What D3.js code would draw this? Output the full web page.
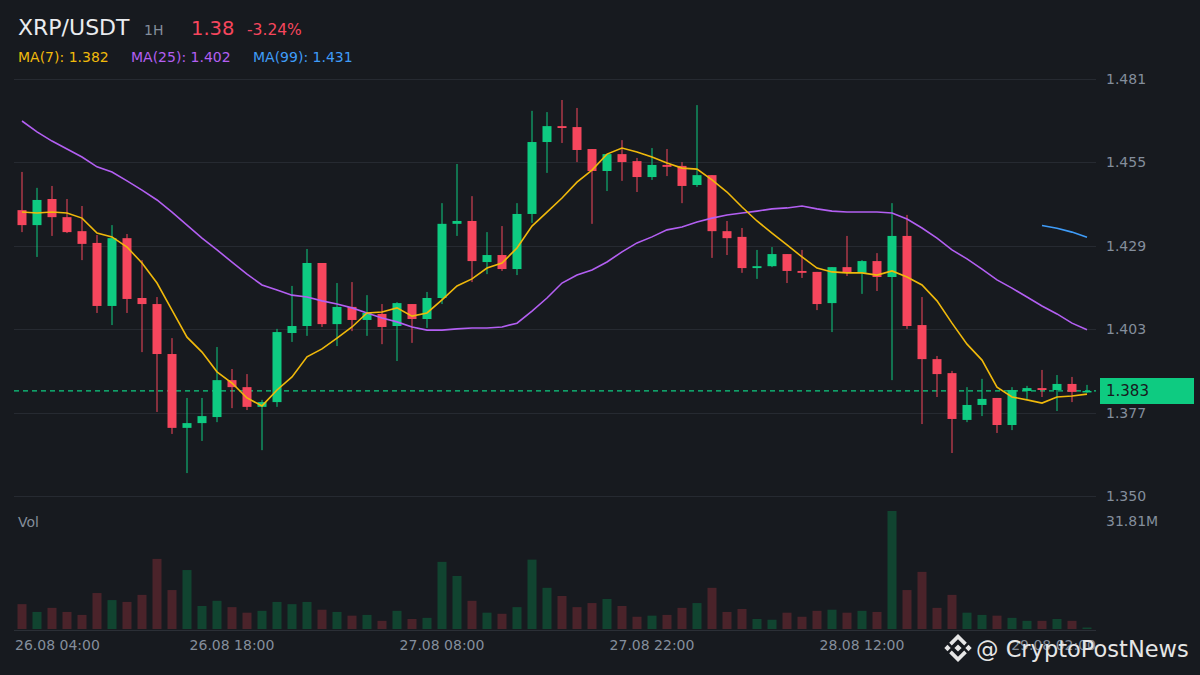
<!DOCTYPE html>
<html>
<head>
<meta charset="utf-8">
<script src="https://cdn.jsdelivr.net/npm/d3@7"></script>
<style>
  html, body { margin: 0; padding: 0; background: #171a1f; }
  svg { display: block; font-family: "DejaVu Sans", sans-serif; }
</style>
</head>
<body>
<div id="chart"></div>
<script>
// 1h candles, first bar 26.08 04:00
const opens = [1.4398,1.4351,1.4433,1.4376,1.4332,1.4295,1.4097,1.4310,1.4122,1.4103,
  1.3946,1.3714,1.3729,1.3748,1.3864,1.3842,1.3780,1.3795,1.4012,1.4034,
  1.4232,1.4040,1.4094,1.4053,1.4072,1.4034,1.4103,1.4056,1.4122,1.4355,
  1.4364,1.4235,1.4257,1.4213,1.4386,1.4612,1.4662,1.4659,1.4590,1.4521,
  1.4574,1.4552,1.4502,1.4540,1.4537,1.4477,1.4508,1.4332,1.4314,1.4216,
  1.4222,1.4260,1.4207,1.4204,1.4106,1.4219,1.4201,1.4238,1.4188,1.4317,
  1.4037,1.3930,1.3886,1.3739,1.3786,1.3808,1.3723,1.3830,1.3839,1.3833,
  1.3852,1.3827];
const highs = [1.4518,1.4468,1.4474,1.4433,1.4411,1.4320,1.4351,1.4323,1.4241,1.4125,
  1.3996,1.3808,1.3808,1.3968,1.3899,1.3883,1.3802,1.4025,1.4160,1.4276,
  1.4232,1.4169,1.4172,1.4131,1.4103,1.4109,1.4103,1.4141,1.4420,1.4543,
  1.4442,1.4329,1.4348,1.4420,1.4710,1.4706,1.4744,1.4719,1.4590,1.4574,
  1.4618,1.4562,1.4593,1.4590,1.4549,1.4728,1.4508,1.4364,1.4342,1.4273,
  1.4282,1.4260,1.4273,1.4204,1.4219,1.4317,1.4241,1.4263,1.4420,1.4383,
  1.4125,1.3940,1.3893,1.3842,1.3868,1.3808,1.3842,1.3846,1.3896,1.3880,
  1.3874,1.3849];
const lows = [1.4329,1.4251,1.4317,1.4326,1.4241,1.4075,1.4037,1.4075,1.3952,1.3764,
  1.3695,1.3572,1.3673,1.3732,1.3776,1.3770,1.3644,1.3780,1.3984,1.4003,
  1.4031,1.3971,1.4018,1.4003,1.3977,1.3924,1.3981,1.4028,1.4103,1.4317,
  1.4172,1.4197,1.4207,1.4194,1.4358,1.4515,1.4609,1.4549,1.4355,1.4458,
  1.4490,1.4455,1.4493,1.4505,1.4420,1.4471,1.4248,1.4257,1.4201,1.4182,
  1.4219,1.4169,1.4185,1.4084,1.4015,1.4191,1.4135,1.4144,1.3864,1.4025,
  1.3726,1.3811,1.3635,1.3732,1.3751,1.3698,1.3707,1.3805,1.3811,1.3767,
  1.3795,1.3824];
const closes = [1.4351,1.4430,1.4376,1.4329,1.4292,1.4097,1.4310,1.4119,1.4103,1.3946,
  1.3714,1.3729,1.3751,1.3864,1.3842,1.3780,1.3795,1.4015,1.4034,1.4232,
  1.4040,1.4094,1.4053,1.4075,1.4031,1.4106,1.4056,1.4122,1.4355,1.4364,
  1.4238,1.4257,1.4213,1.4386,1.4612,1.4662,1.4656,1.4587,1.4521,1.4574,
  1.4549,1.4502,1.4540,1.4534,1.4474,1.4508,1.4332,1.4310,1.4216,1.4222,
  1.4260,1.4207,1.4201,1.4103,1.4219,1.4201,1.4238,1.4188,1.4317,1.4034,
  1.3930,1.3883,1.3742,1.3786,1.3805,1.3723,1.3833,1.3839,1.3833,1.3852,
  1.3827,1.3830];
// volume in millions
const volumes = [6.7,4.6,5.7,4.6,3.8,9.7,7.8,7.3,9.2,18.9,
  10.5,15.9,6.2,7.6,5.9,4.4,4.9,7.3,6.7,7.3,
  5.2,4.6,3.6,3.8,2.2,4.9,2.7,3.0,18.1,14.3,
  7.6,4.4,4.1,5.9,18.7,11.1,8.9,5.9,7.0,8.1,
  6.2,3.3,3.6,3.8,5.7,7.0,11.1,4.6,5.4,2.7,
  2.5,4.4,3.3,4.9,5.2,4.4,4.9,4.6,31.81,10.5,
  15.4,5.7,9.2,4.4,3.8,3.6,3.0,2.2,2.2,2.7,
  2.2,0.4];
// moving averages as shown
const ma7 = [1.4392,1.4389,1.4392,1.4389,1.4373,1.4326,1.4314,1.4282,1.4232,1.4169,
  1.4084,1.3999,1.3952,1.3890,1.3855,1.3808,1.3783,1.3833,1.3874,1.3937,
  1.3962,1.3996,1.4031,1.4075,1.4078,1.4091,1.4065,1.4075,1.4116,1.4160,
  1.4182,1.4216,1.4232,1.4279,1.4348,1.4392,1.4436,1.4486,1.4524,1.4574,
  1.4593,1.4581,1.4565,1.4546,1.4530,1.4527,1.4493,1.4455,1.4408,1.4364,
  1.4326,1.4289,1.4251,1.4216,1.4204,1.4201,1.4201,1.4194,1.4207,1.4188,
  1.4163,1.4113,1.4043,1.3977,1.3927,1.3842,1.3811,1.3802,1.3792,1.3811,
  1.3814,1.3820];
const ma25 = [1.4678,1.4644,1.4615,1.4590,1.4565,1.4534,1.4518,1.4490,1.4461,1.4430,
  1.4392,1.4351,1.4310,1.4273,1.4235,1.4197,1.4163,1.4147,1.4131,1.4125,
  1.4113,1.4103,1.4091,1.4075,1.4059,1.4047,1.4031,1.4021,1.4021,1.4025,
  1.4028,1.4028,1.4031,1.4043,1.4081,1.4122,1.4169,1.4194,1.4210,1.4235,
  1.4267,1.4295,1.4314,1.4336,1.4345,1.4361,1.4373,1.4383,1.4389,1.4395,
  1.4402,1.4405,1.4411,1.4402,1.4395,1.4392,1.4392,1.4392,1.4389,1.4370,
  1.4342,1.4310,1.4273,1.4245,1.4213,1.4179,1.4153,1.4125,1.4097,1.4072,
  1.4043,1.4022];
const ma99Start = 68;
const ma99 = [1.4350,1.4341,1.4329,1.4313];

const yTicks = [1.3500,1.3762,1.4024,1.4286,1.4548,1.4810];
const yTickLabels = ["1.350","1.377","1.403","1.429","1.455","1.481"];
const xTickIdx = [0,14,28,42,56,70];
const startTime = new Date(2021, 7, 26, 4);
const lastPrice = 1.3830;

const width = 1200, height = 675;
const plot = {left: 14, right: 1096, top: 79, bottom: 496};
const volBox = {top: 511, bottom: 629};
const green = "#0ecb81", red = "#f6465d";

const n = closes.length;
const times = d3.range(n).map(i => d3.timeHour.offset(startTime, i));

const svg = d3.select("#chart")
  .append("svg")
  .attr("width", width)
  .attr("height", height);

svg.append("rect").attr("width", width).attr("height", height).attr("fill", "#171a1f");

const x = d3.scaleBand()
  .domain(d3.range(n))
  .range([plot.left + 0.5, plot.left + 0.5 + 15 * n]);
const cx = i => x(i) + x.bandwidth() / 2;
const bodyW = 9;

const y = d3.scaleLinear().domain([1.350, 1.481]).range([plot.bottom, plot.top]);
const yv = d3.scaleLinear().domain([0, 31.81]).range([volBox.bottom, volBox.top]);
const priceY = y(lastPrice);

// grid
svg.append("g")
  .selectAll("line")
  .data(yTicks)
  .enter()
  .append("line")
  .attr("x1", plot.left)
  .attr("x2", plot.right)
  .attr("y1", d => Math.round(y(d)) + 0.5)
  .attr("y2", d => Math.round(y(d)) + 0.5)
  .attr("stroke", "#262a31")
  .attr("stroke-width", 1);

// volume baseline
svg.append("line")
  .attr("x1", plot.left).attr("x2", plot.right)
  .attr("y1", volBox.bottom + 1.5).attr("y2", volBox.bottom + 1.5)
  .attr("stroke", "#2b2f36");

// last price dashed line
svg.append("line")
  .attr("x1", plot.left).attr("x2", plot.right)
  .attr("y1", priceY).attr("y2", priceY)
  .attr("stroke", green)
  .attr("stroke-dasharray", "5,4")
  .attr("stroke-width", 1.2);

// volume bars
svg.append("g")
  .selectAll("rect")
  .data(volumes)
  .enter()
  .append("rect")
  .attr("x", (d, i) => cx(i) - bodyW / 2)
  .attr("width", bodyW)
  .attr("y", d => yv(d))
  .attr("height", d => Math.max(1, volBox.bottom - yv(d)))
  .attr("fill", (d, i) => closes[i] >= opens[i] ? "#114430" : "#4a232a");

// candles
const candles = svg.append("g")
  .selectAll("g")
  .data(d3.range(n))
  .enter()
  .append("g")
  .attr("fill", i => closes[i] >= opens[i] ? green : red)
  .attr("stroke", i => closes[i] >= opens[i] ? green : red);

candles.append("line")
  .attr("x1", i => cx(i))
  .attr("x2", i => cx(i))
  .attr("y1", i => y(highs[i]))
  .attr("y2", i => y(lows[i]))
  .attr("stroke-width", 1);

candles.append("rect")
  .attr("stroke", "none")
  .attr("x", i => cx(i) - bodyW / 2)
  .attr("width", bodyW)
  .attr("y", i => y(Math.max(opens[i], closes[i])))
  .attr("height", i => Math.max(1.5, Math.abs(y(opens[i]) - y(closes[i]))));

// moving averages
const line = d3.line().x(d => cx(d[0])).y(d => y(d[1]));
function drawMA(values, offset, color) {
  svg.append("path")
    .datum(values.map((v, i) => [i + offset, v]))
    .attr("d", line)
    .attr("fill", "none")
    .attr("stroke", color)
    .attr("stroke-width", 1.6);
}
drawMA(ma25, 0, "#b35ff2");
drawMA(ma7, 0, "#f0b90b");
drawMA(ma99, ma99Start, "#3f9cf8");

// price axis
const yAxis = svg.append("g")
  .attr("transform", "translate(1106,0)")
  .call(d3.axisRight(y).tickValues(yTicks).tickSize(0).tickPadding(0)
    .tickFormat((d, i) => yTickLabels[i]));
yAxis.select(".domain").remove();
yAxis.selectAll("text")
  .attr("fill", "#848e9c")
  .attr("font-size", 14)
  .attr("font-family", "DejaVu Sans");

// time axis
const fmt = d3.timeFormat("%d.%m %H:%M");
const xAxis = svg.append("g")
  .attr("transform", "translate(0," + 632 + ")")
  .call(d3.axisBottom(x).tickValues(xTickIdx).tickSize(0).tickPadding(8)
    .tickFormat(i => fmt(times[i])));
xAxis.select(".domain").remove();
xAxis.selectAll("text")
  .attr("fill", "#848e9c")
  .attr("font-size", 14)
  .attr("font-family", "DejaVu Sans");
// keep the end labels inside the plot
xAxis.selectAll(".tick").each(function(i) {
  const t = d3.select(this).select("text");
  if (i === xTickIdx[0]) t.attr("text-anchor", "start").attr("x", plot.left + 1 - cx(i));
  if (i === xTickIdx[xTickIdx.length - 1]) t.attr("text-anchor", "end").attr("x", plot.right - cx(i));
});

// last price tag
svg.append("rect")
  .attr("x", 1100).attr("y", Math.round(priceY) - 13)
  .attr("width", 94).attr("height", 26)
  .attr("fill", green);
svg.append("text")
  .attr("x", 1106).attr("y", Math.round(priceY))
  .attr("dy", "0.35em")
  .attr("font-size", 15)
  .attr("fill", "#181a20")
  .text(d3.format(".3f")(lastPrice));

// volume labels
svg.append("text").attr("x", 18).attr("y", 527).attr("font-size", 14).attr("fill", "#848e9c").text("Vol");
svg.append("text").attr("x", 1106).attr("y", 526).attr("font-size", 14).attr("fill", "#848e9c")
  .text(d3.max(volumes).toFixed(2) + "M");

// header
const head = svg.append("text").attr("x", 18).attr("y", 35);
head.append("tspan").attr("font-size", 22).attr("fill", "#eaecef").text("XRP/USDT");
head.append("tspan").attr("x", 144).attr("font-size", 14).attr("fill", "#848e9c").text("1H");
head.append("tspan").attr("x", 191).attr("font-size", 19.5).attr("fill", red).text(d3.format(".2f")(lastPrice));
head.append("tspan").attr("x", 247).attr("font-size", 15.5).attr("fill", red).text("-3.24%");

const maRow = [["MA(7): ", ma7, "#f0b90b", 18], ["MA(25): ", ma25, "#b35ff2", 131], ["MA(99): ", ma99, "#3f9cf8", 253]];
maRow.forEach(m => {
  svg.append("text")
    .attr("x", m[3]).attr("y", 62)
    .attr("font-size", 14)
    .attr("fill", m[2])
    .text(m[0] + d3.format(".3f")(m[1][m[1].length - 1]));
});

// watermark
const wm = svg.append("g").attr("transform", "translate(958,648)").attr("fill", "#e6e6e6");
const diamond = (cx0, cy0, r) => [[cx0, cy0 - r], [cx0 + r, cy0], [cx0, cy0 + r], [cx0 - r, cy0]];
[diamond(0, 0, 3.6), diamond(-10.5, 0, 3.2), diamond(10.5, 0, 3.2),
 [[-8.8, -5.2], [0, -14], [8.8, -5.2], [6.2, -2.6], [0, -8.8], [-6.2, -2.6]],
 [[-8.8, 5.2], [0, 14], [8.8, 5.2], [6.2, 2.6], [0, 8.8], [-6.2, 2.6]]]
  .forEach(p => wm.append("polygon").attr("points", p.map(q => q.join(",")).join(" ")));
svg.append("text")
  .attr("x", 976).attr("y", 657)
  .attr("font-size", 22.5)
  .attr("fill", "#e6e6e6")
  .text("@ CryptoPostNews");
</script>
</body>
</html>
